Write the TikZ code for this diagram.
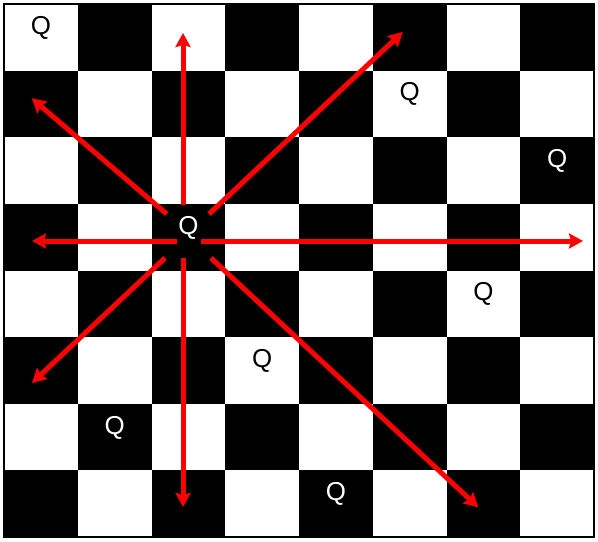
\documentclass[tikz,border=0pt]{standalone}
\usepackage{fontspec}
\setmainfont{Liberation Sans}
\usetikzlibrary{arrows.meta}
\begin{document}
\begin{tikzpicture}[x=1bp,y=-1bp,
  queen/.style={inner sep=0pt, anchor=base, font=\fontsize{26}{26}\selectfont},
  bq/.style={queen, text=black},
  wq/.style={queen, text=white},
  move/.style={draw=red, line width=5bp, -{Stealth[length=14bp,width=15bp,inset=2bp]}},
  darksq/.style={fill=black}]
\useasboundingbox (0,0) rectangle (598,542);
\fill[white] (0,0) rectangle (598,542);
\foreach \r in {0,...,7} {
  \foreach \c in {0,...,7} {
    \pgfmathtruncatemacro\sq{mod(\r+\c,2)}
    \ifnum\sq=1
      \path[darksq] ({4+73.75*\c},{4+66.625*\r}) rectangle ({4+73.75*(\c+1)},{4+66.625*(\r+1)});
    \fi
  }
}
\draw[line width=1.5bp] (4,4) rectangle (594,537);
% queens
\node[bq] (q1) at (40.9,34.3) {Q};
\node[bq] (q2) at (409.6,100.9) {Q};
\node[wq] (q3) at (557.1,167.6) {Q};
\node[wq] (q4) at (188.4,234.2) {Q};
\node[bq] (q5) at (483.4,300.8) {Q};
\node[bq] (q6) at (262.1,367.4) {Q};
\node[wq] (q7) at (114.6,434.1) {Q};
\node[wq] (q8) at (335.9,500.7) {Q};
% arrow ends
\coordinate (sU) at (183,205);   \coordinate (tU) at (183,33);
\coordinate (sD) at (183,258);   \coordinate (tD) at (183,507);
\coordinate (sL) at (177,241);   \coordinate (tL) at (32,241);
\coordinate (sR) at (201,241);   \coordinate (tR) at (583,241);
\coordinate (sUL) at (166.7,214); \coordinate (tUL) at (31.7,98.3);
\coordinate (sUR) at (209,214);   \coordinate (tUR) at (402.7,32);
\coordinate (sDL) at (165,258);   \coordinate (tDL) at (32,383);
\coordinate (sDR) at (211,258);   \coordinate (tDR) at (478.3,507.3);
\draw[move] (sU) -- (tU);
\draw[move] (sD) -- (tD);
\draw[move] (sL) -- (tL);
\draw[move] (sR) -- (tR);
\draw[move] (sUL) -- (tUL);
\draw[move] (sUR) -- (tUR);
\draw[move] (sDL) -- (tDL);
\draw[move] (sDR) -- (tDR);
\end{tikzpicture}
\end{document}
